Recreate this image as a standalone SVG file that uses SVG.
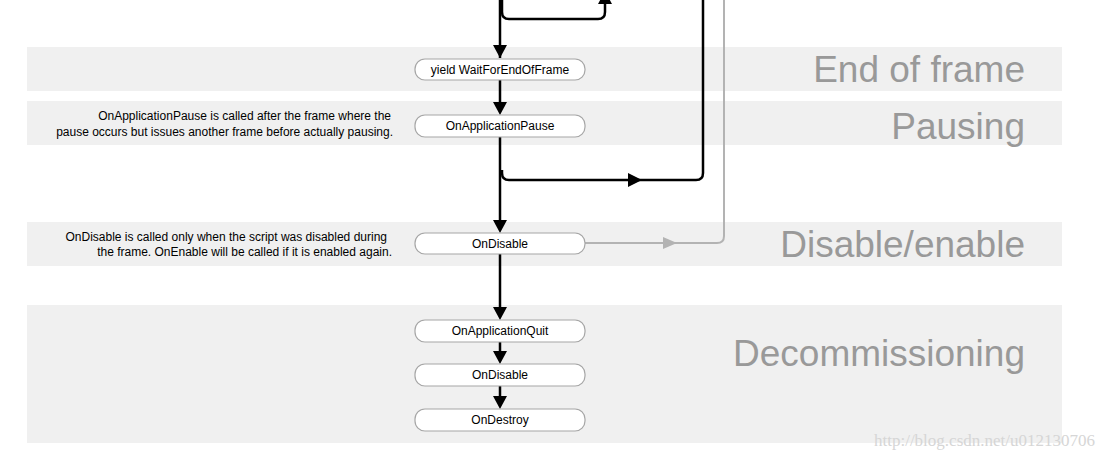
<svg xmlns="http://www.w3.org/2000/svg" width="1106" height="461" viewBox="0 0 1106 461">
<style>
.band{fill:#f0f0f0}
.node rect{fill:#fff;stroke:#a6a6a6;stroke-width:1.2}
.node text{font-family:"Liberation Sans",Arial,sans-serif;font-size:12px;fill:#000;text-anchor:middle}
.title{font-family:"Liberation Sans",Arial,sans-serif;font-size:37px;fill:#999;text-anchor:end}
.note{font-family:"Liberation Sans",Arial,sans-serif;font-size:12px;fill:#000;text-anchor:end}
.k{fill:none;stroke:#000;stroke-width:2.5}
.g{fill:none;stroke:#b3b3b3;stroke-width:2}
</style>
<defs>
<marker id="ak" viewBox="0 0 10 10" refX="10" refY="5" markerWidth="6" markerHeight="6" markerUnits="userSpaceOnUse" orient="auto"><path d="M0,0L10,5L0,10z" fill="#000"/></marker>
<marker id="ag" viewBox="0 0 10 10" refX="5" refY="5" markerWidth="7" markerHeight="7" markerUnits="userSpaceOnUse" orient="auto"><path d="M0,0L10,5L0,10z" fill="#b3b3b3"/></marker>
<marker id="akm" viewBox="0 0 10 10" refX="5" refY="5" markerWidth="7" markerHeight="7" markerUnits="userSpaceOnUse" orient="auto"><path d="M0,0L10,5L0,10z" fill="#000"/></marker>
</defs>
<rect x="0" y="0" width="1106" height="461" fill="#fff"/>
<rect class="band" x="27" y="47" width="1035" height="44"/>
<rect class="band" x="27" y="101" width="1035" height="44"/>
<rect class="band" x="27" y="222" width="1035" height="44"/>
<rect class="band" x="27" y="305" width="1035" height="138"/>
<text class="title" x="1025" y="82">End of frame</text>
<text class="title" x="1025" y="139">Pausing</text>
<text class="title" x="1025" y="257">Disable/enable</text>
<text class="title" x="1025" y="366">Decommissioning</text>
<text class="note" x="391" y="120">OnApplicationPause is called after the frame where the</text>
<text class="note" x="393" y="136">pause occurs but issues another frame before actually pausing.</text>
<text class="note" x="387" y="241">OnDisable is called only when the script was disabled during</text>
<text class="note" x="392" y="256">the frame. OnEnable will be called if it is enabled again.</text>
<g id="connectors">
<path class="k" d="M500,0V58" marker-end="url(#ak)" style="marker-end:none"/>
<path d="M493,45L500,58L507,45z" fill="#000"/>
<path class="k" d="M502,0V12Q502,19 509,19H598Q605,19 605,12V2"/>
<path d="M598,4L605,-9L612,4z" fill="#000"/>
<path class="k" d="M500,80V103"/><path d="M493,102L500,115L507,102z" fill="#000"/>
<path class="k" d="M500,137V221"/><path d="M493,220L500,233L507,220z" fill="#000"/>
<path class="k" d="M502,170V173Q502,180 509,180H696Q703,180 703,173V0"/>
<path d="M628,173L642,180L628,187z" fill="#000"/>
<path class="g" d="M585,243H717Q724,243 724,236V0"/>
<path d="M663,237L677,243L663,249z" fill="#b3b3b3"/>
<path class="k" d="M500,254V308"/><path d="M493,307L500,320L507,307z" fill="#000"/>
<path class="k" d="M500,342V352"/><path d="M493,351L500,364L507,351z" fill="#000"/>
<path class="k" d="M500,386V397"/><path d="M493,396L500,409L507,396z" fill="#000"/>
</g>
<g id="n1" class="node"><rect x="415" y="59" width="170" height="21" rx="10"/><text x="500" y="74">yield WaitForEndOfFrame</text></g>
<g id="n2" class="node"><rect x="415" y="115" width="170" height="22" rx="10"/><text x="500" y="130">OnApplicationPause</text></g>
<g id="n3" class="node"><rect x="415" y="233" width="170" height="21" rx="10"/><text x="500" y="248">OnDisable</text></g>
<g id="n4" class="node"><rect x="415" y="320" width="170" height="22" rx="10"/><text x="500" y="335">OnApplicationQuit</text></g>
<g id="n5" class="node"><rect x="415" y="364" width="170" height="22" rx="10"/><text x="500" y="379">OnDisable</text></g>
<g id="n6" class="node"><rect x="415" y="409" width="170" height="22" rx="10"/><text x="500" y="424">OnDestroy</text></g>
<text x="1095" y="446" text-anchor="end" font-family="'Liberation Serif',serif" font-size="17" fill="#d6d6d6">http://blog.csdn.net/u012130706</text>
</svg>
